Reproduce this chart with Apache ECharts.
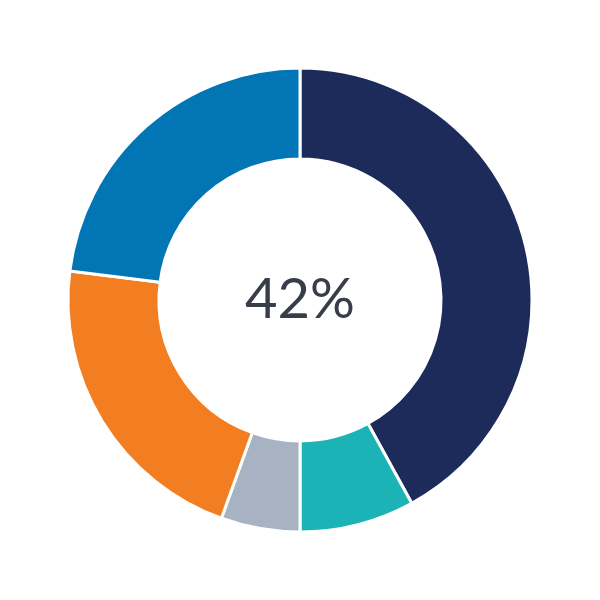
<!DOCTYPE html>
<html>
<head>
<meta charset="utf-8">
<script src="https://cdn.jsdelivr.net/npm/echarts@6/dist/echarts.min.js"></script>
<style>
  html, body { margin: 0; padding: 0; background: #fff; }
  #main { width: 600px; height: 600px; }
</style>
</head>
<body>
<div id="main"></div>
<script>
var names = ['A', 'B', 'C', 'D', 'E'];
var values = [42, 8, 5.5, 21.5, 23];
var colors = ['#1c2b5a', '#1cb3b6', '#a7b3c2', '#f27e21', '#0276b4'];
var centerLabel = '42%';

var myChart = echarts.init(document.getElementById('main'));
var pieData = [];
for (var i = 0; i < values.length; i++) {
  pieData.push({ name: names[i], value: values[i], itemStyle: { color: colors[i] } });
}
var option = {
  backgroundColor: '#fff',
  title: {
    text: centerLabel,
    left: 'center',
    top: 'middle',
    textStyle: {
      fontFamily: 'Lato',
      fontWeight: 'normal',
      fontSize: 56,
      color: '#383e49'
    }
  },
  series: [{
    type: 'pie',
    center: [300, 300],
    radius: [141, 232],
    startAngle: 90,
    clockwise: true,
    silent: true,
    label: { show: false },
    labelLine: { show: false },
    itemStyle: { borderColor: '#fff', borderWidth: 3 },
    data: pieData
  }]
};
myChart.setOption(option);
</script>
</body>
</html>
